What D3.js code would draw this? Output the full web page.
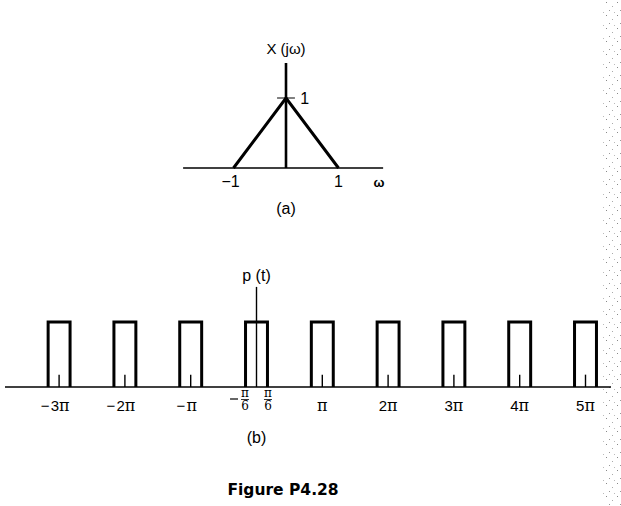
<!DOCTYPE html>
<html><head><meta charset="utf-8">
<script src="https://cdn.jsdelivr.net/npm/d3@7"></script>
<style>html,body{margin:0;padding:0;background:#fff;}svg{display:block;}</style>
</head><body>
<script>
// Panel (a): X(jw) triangle
const omega = [-1, 0, 1];
const Xjw = [0, 1, 0];
const aTickVals = [-1, 1];
const aTickLabels = ["\u22121", "1"];
// Panel (b): pulse train p(t)
const pulseCenters = [-3, -2, -1, 0, 1, 2, 3, 4, 5]; // multiples of pi
const pulseHalfWidth = 1 / 6; // pi/6, in units of pi
const pulseHeight = 1;
const bTickVals = [-3, -2, -1, 1, 2, 3, 4, 5];
const bTickPrefix = ["\u2212\u200a3", "\u2212\u200a2", "\u2212\u200a", "", "2", "3", "4", "5"];

const W = 621, H = 506;
const svg = d3.select("body").append("svg").attr("width", W).attr("height", H);
const font = "'Liberation Sans', Arial, sans-serif";
const piFont = "'DejaVu Serif', 'Liberation Serif', serif";

// scan-edge stipple on the right margin
const defs = svg.append("defs");
const pat = defs.append("pattern").attr("id", "stip").attr("patternUnits", "userSpaceOnUse")
  .attr("width", 11).attr("height", 13);
[[1, 2, "#888"], [7, 6, "#aaa"], [4, 10, "#999"], [9, 12, "#bbb"]].forEach(([x, y, c]) =>
  pat.append("rect").attr("x", x).attr("y", y).attr("width", 1).attr("height", 1).attr("fill", c));
svg.append("rect").attr("x", 603).attr("y", 0).attr("width", 18).attr("height", H).attr("fill", "url(#stip)");

// ---- Panel (a)
const xa = d3.scaleLinear().domain([0, 1]).range([286, 338.5]);
const ya = d3.scaleLinear().domain([0, 1]).range([168, 98]);
const ga = svg.append("g");
ga.append("line").attr("x1", xa(-1.96)).attr("x2", xa(1.85)).attr("y1", ya(0)).attr("y2", ya(0))
  .attr("stroke", "#000").attr("stroke-width", 1.4);
ga.append("line").attr("x1", xa(0)).attr("x2", xa(0)).attr("y1", ya(0)).attr("y2", ya(1.5))
  .attr("stroke", "#000").attr("stroke-width", 2.6);
ga.append("line").attr("x1", xa(-0.17)).attr("x2", xa(0.17)).attr("y1", ya(1)).attr("y2", ya(1))
  .attr("stroke", "#000").attr("stroke-width", 1);
ga.append("path").datum(omega.map((w, i) => [w, Xjw[i]]))
  .attr("d", d3.line().x(d => xa(d[0])).y(d => ya(d[1])))
  .attr("fill", "none").attr("stroke", "#000").attr("stroke-width", 3).attr("stroke-linejoin", "miter");
ga.selectAll("text.t").data(aTickVals).join("text")
  .attr("x", d => xa(d) - (d < 0 ? 3 : 0)).attr("y", ya(0) + 19)
  .attr("text-anchor", "middle").attr("font-family", font).attr("font-size", 16)
  .text((d, i) => aTickLabels[i]);
ga.append("text").attr("x", xa(0.27)).attr("y", ya(1) + 6).attr("font-family", font).attr("font-size", 16).text("1");
ga.append("text").attr("x", xa(1.77)).attr("y", ya(0) + 19).attr("text-anchor", "middle")
  .attr("font-family", font).attr("font-size", 13).attr("font-weight", "bold").text("\u03c9");
ga.append("text").attr("x", xa(0)).attr("y", 54).attr("text-anchor", "middle")
  .attr("font-family", font).attr("font-size", 15).text("X (j\u03c9)");
ga.append("text").attr("x", xa(0)).attr("y", 214).attr("text-anchor", "middle")
  .attr("font-family", font).attr("font-size", 16).text("(a)");

// ---- Panel (b)
const xb = d3.scaleLinear().domain([0, 1]).range([256.5, 322.3]);
const yb = d3.scaleLinear().domain([0, 1]).range([387, 322]);
const gb = svg.append("g");
gb.append("line").attr("x1", 5).attr("x2", 611).attr("y1", yb(0)).attr("y2", yb(0))
  .attr("stroke", "#000").attr("stroke-width", 1.5);
gb.selectAll("path.p").data(pulseCenters).join("path")
  .attr("d", c => d3.line().x(d => xb(d[0])).y(d => yb(d[1]))([
    [c - pulseHalfWidth, 0], [c - pulseHalfWidth, pulseHeight],
    [c + pulseHalfWidth, pulseHeight], [c + pulseHalfWidth, 0]]))
  .attr("fill", "none").attr("stroke", "#000").attr("stroke-width", 3).attr("stroke-linejoin", "miter");
gb.selectAll("line.ct").data(pulseCenters.filter(c => c !== 0)).join("line")
  .attr("x1", c => xb(c)).attr("x2", c => xb(c)).attr("y1", yb(0)).attr("y2", yb(0.19))
  .attr("stroke", "#000").attr("stroke-width", 1.4);
gb.append("line").attr("x1", xb(0)).attr("x2", xb(0)).attr("y1", yb(0)).attr("y2", yb(1.54))
  .attr("stroke", "#000").attr("stroke-width", 1.4);
const tl = gb.selectAll("text.t").data(bTickVals).join("text")
  .attr("x", d => xb(d) - (d < 0 ? 4 : 0)).attr("y", yb(0) + 24)
  .attr("text-anchor", "middle").attr("font-family", font).attr("font-size", 15).attr("fill", "#000");
tl.append("tspan").text((d, i) => bTickPrefix[i]);
tl.append("tspan").attr("font-family", piFont).attr("font-size", 16).text("\u03c0");
// fraction labels -pi/6 and pi/6
[[-pulseHalfWidth, "\u2212"], [pulseHalfWidth, ""]].forEach(([v, sgn]) => {
  const cx = xb(v) + (v < 0 ? -1 : 1) * 0.5;
  if (sgn) gb.append("line").attr("x1", cx - 15).attr("x2", cx - 7).attr("y1", yb(0) + 12).attr("y2", yb(0) + 12)
    .attr("stroke", "#000").attr("stroke-width", 1.2);
  gb.append("text").attr("x", cx).attr("y", yb(0) + 10).attr("text-anchor", "middle").attr("fill", "#000")
    .attr("font-family", piFont).attr("font-size", 12).text("\u03c0");
  gb.append("line").attr("x1", cx - 4).attr("x2", cx + 4).attr("y1", yb(0) + 12.5).attr("y2", yb(0) + 12.5)
    .attr("stroke", "#000").attr("stroke-width", 0.8);
  gb.append("text").attr("x", cx).attr("y", yb(0) + 23).attr("text-anchor", "middle").attr("fill", "#000")
    .attr("font-family", piFont).attr("font-size", 12).text("6");
});
gb.append("text").attr("x", xb(0)).attr("y", 281).attr("text-anchor", "middle")
  .attr("font-family", font).attr("font-size", 16).text("p (t)");
gb.append("text").attr("x", xb(0)).attr("y", 443).attr("text-anchor", "middle")
  .attr("font-family", font).attr("font-size", 16).text("(b)");

// caption
svg.append("text").attr("x", 283).attr("y", 495).attr("text-anchor", "middle")
  .attr("font-family", "'DejaVu Sans', sans-serif").attr("font-weight", "bold")
  .attr("font-size", 15.5).text("Figure P4.28");
</script>
</body></html>
